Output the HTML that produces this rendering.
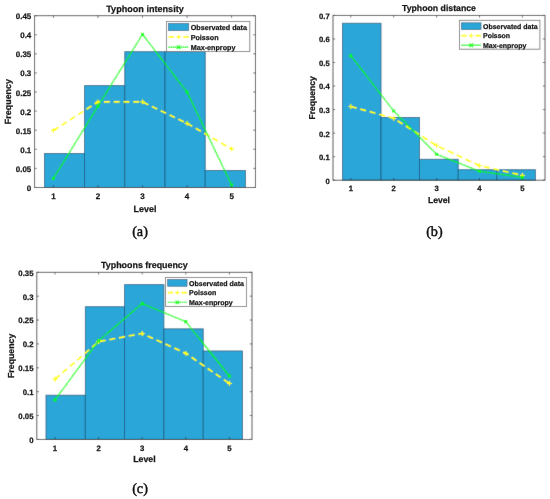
<!DOCTYPE html><html><head><meta charset="utf-8"><title>Typhoon charts</title><style>html,body{margin:0;padding:0;background:#fff}svg{display:block}text{text-rendering:geometricPrecision;stroke:#1a1a1a;stroke-width:.25px}</style></head><body><svg width="550" height="499" viewBox="0 0 550 499">
<defs><filter id="soft" x="0" y="0" width="100%" height="100%" filterUnits="userSpaceOnUse"><feConvolveMatrix order="3" kernelMatrix="0.01 0.07 0.01 0.07 0.68 0.07 0.01 0.07 0.01" divisor="1" edgeMode="duplicate" preserveAlpha="true"/></filter></defs>
<g filter="url(#soft)">
<rect width="550" height="499" fill="#fff"/>
<g>
<rect x="44.40" y="153.52" width="40.20" height="33.93" fill="#29a6d9" stroke="#1f5f80" stroke-width="0.8"/>
<rect x="84.60" y="85.66" width="40.20" height="101.79" fill="#29a6d9" stroke="#1f5f80" stroke-width="0.8"/>
<rect x="124.80" y="51.73" width="40.20" height="135.72" fill="#29a6d9" stroke="#1f5f80" stroke-width="0.8"/>
<rect x="165.00" y="51.73" width="40.20" height="135.72" fill="#29a6d9" stroke="#1f5f80" stroke-width="0.8"/>
<rect x="205.20" y="170.50" width="40.20" height="16.95" fill="#29a6d9" stroke="#1f5f80" stroke-width="0.8"/>
<rect x="34.60" y="15.70" width="220.80" height="171.75" fill="none" stroke="#262626" stroke-opacity="0.85" stroke-width="0.9"/>
<path d="M53.40 187.45v-2.20 M53.40 15.70v2.20 M97.95 187.45v-2.20 M97.95 15.70v2.20 M142.50 187.45v-2.20 M142.50 15.70v2.20 M187.05 187.45v-2.20 M187.05 15.70v2.20 M231.60 187.45v-2.20 M231.60 15.70v2.20 M34.60 187.45h2.20 M255.40 187.45h-2.20 M34.60 168.37h2.20 M255.40 168.37h-2.20 M34.60 149.28h2.20 M255.40 149.28h-2.20 M34.60 130.20h2.20 M255.40 130.20h-2.20 M34.60 111.12h2.20 M255.40 111.12h-2.20 M34.60 92.03h2.20 M255.40 92.03h-2.20 M34.60 72.95h2.20 M255.40 72.95h-2.20 M34.60 53.87h2.20 M255.40 53.87h-2.20 M34.60 34.78h2.20 M255.40 34.78h-2.20 M34.60 15.70h2.20 M255.40 15.70h-2.20" stroke="#262626" stroke-opacity="0.8" stroke-width="0.8" fill="none"/>
<polyline points="53.40,130.44 97.95,101.94 142.50,101.94 187.05,123.32 231.60,148.97" fill="none" stroke="#ffff00" stroke-width="1.7" stroke-dasharray="6 3.8"/>
<path d="M51.00 130.44h4.80 M53.40 128.04v4.80 M95.55 101.94h4.80 M97.95 99.54v4.80 M140.10 101.94h4.80 M142.50 99.54v4.80 M184.65 123.32h4.80 M187.05 120.92v4.80 M229.20 148.97h4.80 M231.60 146.57v4.80" stroke="#ffff00" stroke-width="1.2" fill="none"/>
<polyline points="53.40,178.48 97.95,106.15 142.50,34.40 187.05,92.03 231.60,184.97" fill="none" stroke="#00ff00" stroke-width="1.6" stroke-dasharray="1.05 0.55"/>
<path d="M52.00 177.08l2.80 2.80 M52.00 179.88l2.80 -2.80 M96.55 104.75l2.80 2.80 M96.55 107.55l2.80 -2.80 M141.10 33.00l2.80 2.80 M141.10 35.80l2.80 -2.80 M185.65 90.63l2.80 2.80 M185.65 93.43l2.80 -2.80 M230.20 183.57l2.80 2.80 M230.20 186.37l2.80 -2.80" stroke="#00ff00" stroke-width="1.2" fill="none"/>
<rect x="166.40" y="21.40" width="83.40" height="30.20" fill="#fff" stroke="#6a6a6a" stroke-width="0.8"/>
<rect x="168.55" y="23.63" width="20.15" height="6.75" fill="#29a6d9" stroke="#1f5f80" stroke-width="0.7"/>
<path d="M168.55 36.90h5.4M188.70 36.90h-5.4" stroke="#ffff00" stroke-width="1.7" fill="none"/>
<path d="M176.42 36.90h4.4 M178.62 34.70v4.4" stroke="#ffff00" stroke-width="1.2"/>
<path d="M168.55 47.20H188.70" stroke="#00ff00" stroke-width="1.4" stroke-dasharray="1.4 0.6" fill="none"/>
<path d="M176.82 45.40l3.6 3.6 M176.82 49.00l3.6 -3.6" stroke="#00ff00" stroke-width="1.2"/>
</g>
<g>
<rect x="342.40" y="23.24" width="38.60" height="156.96" fill="#29a6d9" stroke="#1f5f80" stroke-width="0.8"/>
<rect x="381.00" y="117.41" width="38.60" height="62.79" fill="#29a6d9" stroke="#1f5f80" stroke-width="0.8"/>
<rect x="419.60" y="159.27" width="38.60" height="20.93" fill="#29a6d9" stroke="#1f5f80" stroke-width="0.8"/>
<rect x="458.20" y="169.75" width="38.60" height="10.45" fill="#29a6d9" stroke="#1f5f80" stroke-width="0.8"/>
<rect x="496.80" y="169.75" width="38.60" height="10.45" fill="#29a6d9" stroke="#1f5f80" stroke-width="0.8"/>
<rect x="333.00" y="15.40" width="212.00" height="164.80" fill="none" stroke="#262626" stroke-opacity="0.85" stroke-width="0.9"/>
<path d="M350.80 180.20v-2.20 M350.80 15.40v2.20 M393.70 180.20v-2.20 M393.70 15.40v2.20 M436.60 180.20v-2.20 M436.60 15.40v2.20 M479.50 180.20v-2.20 M479.50 15.40v2.20 M522.40 180.20v-2.20 M522.40 15.40v2.20 M333.00 180.20h2.20 M545.00 180.20h-2.20 M333.00 156.66h2.20 M545.00 156.66h-2.20 M333.00 133.11h2.20 M545.00 133.11h-2.20 M333.00 109.57h2.20 M545.00 109.57h-2.20 M333.00 86.03h2.20 M545.00 86.03h-2.20 M333.00 62.49h2.20 M545.00 62.49h-2.20 M333.00 38.94h2.20 M545.00 38.94h-2.20 M333.00 15.40h2.20 M545.00 15.40h-2.20" stroke="#262626" stroke-opacity="0.8" stroke-width="0.8" fill="none"/>
<polyline points="350.80,106.49 393.70,118.28 436.60,145.52 479.50,165.64 522.40,175.31" fill="none" stroke="#ffff00" stroke-width="1.7" stroke-dasharray="6 3.8"/>
<path d="M348.40 106.49h4.80 M350.80 104.09v4.80 M391.30 118.28h4.80 M393.70 115.88v4.80 M434.20 145.52h4.80 M436.60 143.12v4.80 M477.10 165.64h4.80 M479.50 163.24v4.80 M520.00 175.31h4.80 M522.40 172.91v4.80" stroke="#ffff00" stroke-width="1.2" fill="none"/>
<polyline points="350.80,55.66 393.70,110.98 436.60,154.30 479.50,171.25 522.40,177.37" fill="none" stroke="#00ff00" stroke-width="1.6" stroke-dasharray="1.05 0.55"/>
<path d="M349.40 54.26l2.80 2.80 M349.40 57.06l2.80 -2.80 M392.30 109.58l2.80 2.80 M392.30 112.38l2.80 -2.80 M435.20 152.90l2.80 2.80 M435.20 155.70l2.80 -2.80 M478.10 169.85l2.80 2.80 M478.10 172.65l2.80 -2.80 M521.00 175.97l2.80 2.80 M521.00 178.77l2.80 -2.80" stroke="#00ff00" stroke-width="1.2" fill="none"/>
<rect x="459.40" y="20.30" width="80.50" height="28.90" fill="#fff" stroke="#6a6a6a" stroke-width="0.8"/>
<rect x="461.46" y="22.86" width="19.54" height="6.48" fill="#29a6d9" stroke="#1f5f80" stroke-width="0.7"/>
<path d="M461.46 35.60h5.4M481.00 35.60h-5.4" stroke="#ffff00" stroke-width="1.7" fill="none"/>
<path d="M469.03 35.60h4.4 M471.23 33.40v4.4" stroke="#ffff00" stroke-width="1.2"/>
<path d="M461.46 45.20H481.00" stroke="#00ff00" stroke-width="1.4" stroke-dasharray="1.4 0.6" fill="none"/>
<path d="M469.43 43.40l3.6 3.6 M469.43 47.00l3.6 -3.6" stroke="#00ff00" stroke-width="1.2"/>
</g>
<g>
<rect x="46.00" y="395.19" width="39.30" height="44.21" fill="#29a6d9" stroke="#1f5f80" stroke-width="0.8"/>
<rect x="85.30" y="306.77" width="39.30" height="132.63" fill="#29a6d9" stroke="#1f5f80" stroke-width="0.8"/>
<rect x="124.60" y="284.67" width="39.30" height="154.73" fill="#29a6d9" stroke="#1f5f80" stroke-width="0.8"/>
<rect x="163.90" y="328.88" width="39.30" height="110.52" fill="#29a6d9" stroke="#1f5f80" stroke-width="0.8"/>
<rect x="203.20" y="350.98" width="39.30" height="88.42" fill="#29a6d9" stroke="#1f5f80" stroke-width="0.8"/>
<rect x="36.80" y="272.30" width="215.20" height="167.10" fill="none" stroke="#262626" stroke-opacity="0.85" stroke-width="0.9"/>
<path d="M55.00 439.40v-2.20 M55.00 272.30v2.20 M98.60 439.40v-2.20 M98.60 272.30v2.20 M142.20 439.40v-2.20 M142.20 272.30v2.20 M185.80 439.40v-2.20 M185.80 272.30v2.20 M229.40 439.40v-2.20 M229.40 272.30v2.20 M36.80 439.40h2.20 M252.00 439.40h-2.20 M36.80 415.53h2.20 M252.00 415.53h-2.20 M36.80 391.66h2.20 M252.00 391.66h-2.20 M36.80 367.79h2.20 M252.00 367.79h-2.20 M36.80 343.91h2.20 M252.00 343.91h-2.20 M36.80 320.04h2.20 M252.00 320.04h-2.20 M36.80 296.17h2.20 M252.00 296.17h-2.20 M36.80 272.30h2.20 M252.00 272.30h-2.20" stroke="#262626" stroke-opacity="0.8" stroke-width="0.8" fill="none"/>
<polyline points="55.00,379.24 98.60,341.63 142.20,333.49 185.80,353.35 229.40,383.46" fill="none" stroke="#ffff00" stroke-width="1.7" stroke-dasharray="6 3.8"/>
<path d="M52.60 379.24h4.80 M55.00 376.84v4.80 M96.20 341.63h4.80 M98.60 339.23v4.80 M139.80 333.49h4.80 M142.20 331.09v4.80 M183.40 353.35h4.80 M185.80 350.95v4.80 M227.00 383.46h4.80 M229.40 381.06v4.80" stroke="#ffff00" stroke-width="1.2" fill="none"/>
<polyline points="55.00,399.87 98.60,340.72 142.20,303.57 185.80,321.67 229.40,376.19" fill="none" stroke="#00ff00" stroke-width="1.6" stroke-dasharray="1.05 0.55"/>
<path d="M53.60 398.47l2.80 2.80 M53.60 401.27l2.80 -2.80 M97.20 339.32l2.80 2.80 M97.20 342.12l2.80 -2.80 M140.80 302.17l2.80 2.80 M140.80 304.97l2.80 -2.80 M184.40 320.27l2.80 2.80 M184.40 323.07l2.80 -2.80 M228.00 374.79l2.80 2.80 M228.00 377.59l2.80 -2.80" stroke="#00ff00" stroke-width="1.2" fill="none"/>
<rect x="165.60" y="277.40" width="80.90" height="29.20" fill="#fff" stroke="#6a6a6a" stroke-width="0.8"/>
<rect x="167.70" y="279.60" width="19.30" height="6.60" fill="#29a6d9" stroke="#1f5f80" stroke-width="0.7"/>
<path d="M167.70 292.60h5.4M187.00 292.60h-5.4" stroke="#ffff00" stroke-width="1.7" fill="none"/>
<path d="M175.15 292.60h4.4 M177.35 290.40v4.4" stroke="#ffff00" stroke-width="1.2"/>
<path d="M167.70 302.40H187.00" stroke="#00ff00" stroke-width="1.4" stroke-dasharray="1.4 0.6" fill="none"/>
<path d="M175.55 300.60l3.6 3.6 M175.55 304.20l3.6 -3.6" stroke="#00ff00" stroke-width="1.2"/>
</g>
</g>
<g font-family="Liberation Sans, Arial, sans-serif" font-weight="bold" fill="#1a1a1a" font-size="7.97">
<text x="53.40" y="198.75" text-anchor="middle">1</text>
<text x="97.95" y="198.75" text-anchor="middle">2</text>
<text x="142.50" y="198.75" text-anchor="middle">3</text>
<text x="187.05" y="198.75" text-anchor="middle">4</text>
<text x="231.60" y="198.75" text-anchor="middle">5</text>
<text x="31.30" y="190.96" text-anchor="end">0</text>
<text x="31.30" y="171.88" text-anchor="end">0.05</text>
<text x="31.30" y="152.79" text-anchor="end">0.1</text>
<text x="31.30" y="133.71" text-anchor="end">0.15</text>
<text x="31.30" y="114.63" text-anchor="end">0.2</text>
<text x="31.30" y="95.54" text-anchor="end">0.25</text>
<text x="31.30" y="76.46" text-anchor="end">0.3</text>
<text x="31.30" y="57.38" text-anchor="end">0.35</text>
<text x="31.30" y="38.29" text-anchor="end">0.4</text>
<text x="31.30" y="19.21" text-anchor="end">0.45</text>
</g>
<g font-family="Liberation Sans, Arial, sans-serif" font-weight="bold" fill="#1a1a1a" font-size="8.94">
<text x="145.00" y="11.70" text-anchor="middle" font-size="9.08">Typhoon intensity</text>
<text x="145.00" y="211.55" text-anchor="middle">Level</text>
<text transform="translate(11.20 101.57) rotate(-90)" text-anchor="middle">Frequency</text>
</g>
<g font-family="Liberation Sans, Arial, sans-serif" font-weight="bold" fill="#1a1a1a" font-size="7.20">
<text x="190.70" y="29.66">Observated data</text>
<text x="190.70" y="39.56">Poisson</text>
<text x="190.70" y="49.86">Max-enpropy</text>
</g>
<text x="140.00" y="236.00" text-anchor="middle" font-family="Liberation Serif, serif" font-size="14.2" fill="#111" style="stroke:#111;stroke-width:.45px">(a)</text>
<g font-family="Liberation Sans, Arial, sans-serif" font-weight="bold" fill="#1a1a1a" font-size="7.66">
<text x="350.80" y="191.30" text-anchor="middle">1</text>
<text x="393.70" y="191.30" text-anchor="middle">2</text>
<text x="436.60" y="191.30" text-anchor="middle">3</text>
<text x="479.50" y="191.30" text-anchor="middle">4</text>
<text x="522.40" y="191.30" text-anchor="middle">5</text>
<text x="329.70" y="183.60" text-anchor="end">0</text>
<text x="329.70" y="160.06" text-anchor="end">0.1</text>
<text x="329.70" y="136.51" text-anchor="end">0.2</text>
<text x="329.70" y="112.97" text-anchor="end">0.3</text>
<text x="329.70" y="89.43" text-anchor="end">0.4</text>
<text x="329.70" y="65.89" text-anchor="end">0.5</text>
<text x="329.70" y="42.34" text-anchor="end">0.6</text>
<text x="329.70" y="18.80" text-anchor="end">0.7</text>
</g>
<g font-family="Liberation Sans, Arial, sans-serif" font-weight="bold" fill="#1a1a1a" font-size="8.59">
<text x="439.00" y="11.40" text-anchor="middle" font-size="8.72">Typhoon distance</text>
<text x="439.00" y="202.80" text-anchor="middle">Level</text>
<text transform="translate(315.00 97.80) rotate(-90)" text-anchor="middle">Frequency</text>
</g>
<g font-family="Liberation Sans, Arial, sans-serif" font-weight="bold" fill="#1a1a1a" font-size="6.97">
<text x="483.00" y="28.65">Observated data</text>
<text x="483.00" y="38.15">Poisson</text>
<text x="483.00" y="47.75">Max-enpropy</text>
</g>
<text x="434.40" y="236.00" text-anchor="middle" font-family="Liberation Serif, serif" font-size="14.2" fill="#111" style="stroke:#111;stroke-width:.45px">(b)</text>
<g font-family="Liberation Sans, Arial, sans-serif" font-weight="bold" fill="#1a1a1a" font-size="7.80">
<text x="55.00" y="451.30" text-anchor="middle">1</text>
<text x="98.60" y="451.30" text-anchor="middle">2</text>
<text x="142.20" y="451.30" text-anchor="middle">3</text>
<text x="185.80" y="451.30" text-anchor="middle">4</text>
<text x="229.40" y="451.30" text-anchor="middle">5</text>
<text x="33.50" y="442.85" text-anchor="end">0</text>
<text x="33.50" y="418.98" text-anchor="end">0.05</text>
<text x="33.50" y="395.11" text-anchor="end">0.1</text>
<text x="33.50" y="371.24" text-anchor="end">0.15</text>
<text x="33.50" y="347.36" text-anchor="end">0.2</text>
<text x="33.50" y="323.49" text-anchor="end">0.25</text>
<text x="33.50" y="299.62" text-anchor="end">0.3</text>
<text x="33.50" y="275.75" text-anchor="end">0.35</text>
</g>
<g font-family="Liberation Sans, Arial, sans-serif" font-weight="bold" fill="#1a1a1a" font-size="8.75">
<text x="144.40" y="268.30" text-anchor="middle" font-size="8.88">Typhoons frequency</text>
<text x="144.40" y="462.40" text-anchor="middle">Level</text>
<text transform="translate(14.20 355.85) rotate(-90)" text-anchor="middle">Frequency</text>
</g>
<g font-family="Liberation Sans, Arial, sans-serif" font-weight="bold" fill="#1a1a1a" font-size="7.03">
<text x="189.00" y="285.50">Observated data</text>
<text x="189.00" y="295.20">Poisson</text>
<text x="189.00" y="305.00">Max-enpropy</text>
</g>
<text x="140.00" y="492.60" text-anchor="middle" font-family="Liberation Serif, serif" font-size="14.2" fill="#111" style="stroke:#111;stroke-width:.45px">(c)</text>
</svg></body></html>
